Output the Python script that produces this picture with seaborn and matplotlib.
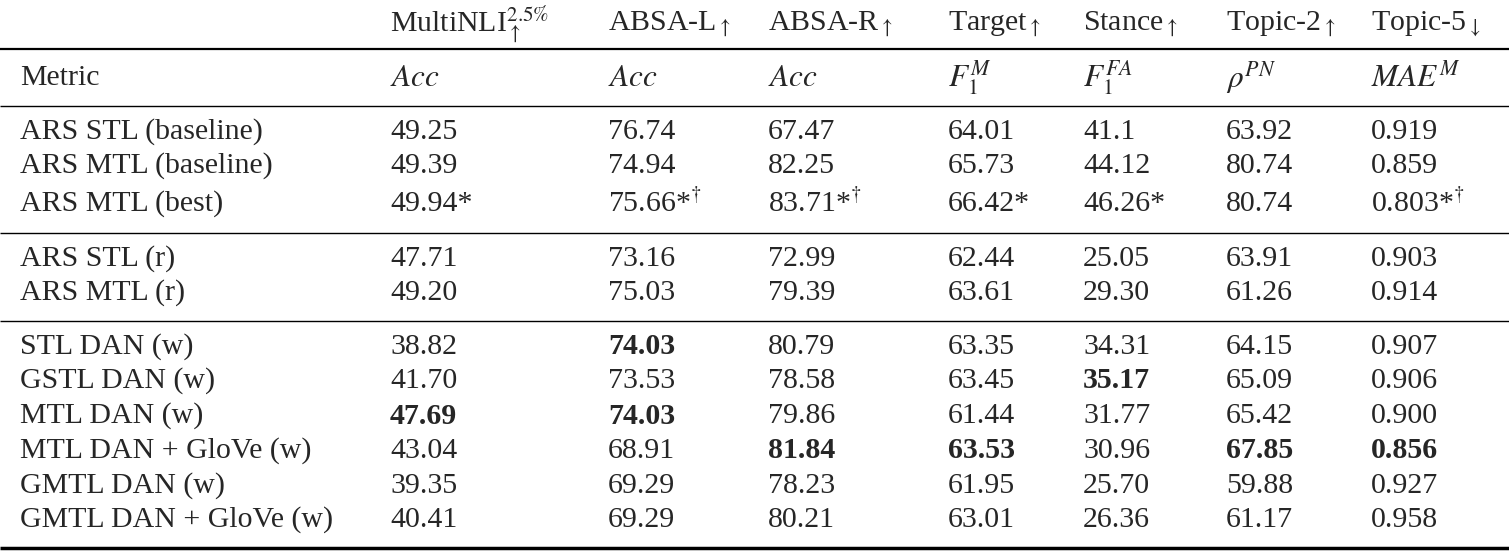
import matplotlib
matplotlib.use("Agg")
import matplotlib.pyplot as plt
import seaborn as sns

sns.set_theme(style="white")
plt.rcParams['font.family'] = ['Liberation Serif', 'DejaVu Serif']
plt.rcParams['mathtext.fontset'] = 'stix'

headers = [r"MultiNLI$^{2.5\%}_{\uparrow}$", r"ABSA-L$_{\uparrow}$", r"ABSA-R$_{\uparrow}$",
           r"Target$_{\uparrow}$", r"Stance$_{\uparrow}$", r"Topic-2$_{\uparrow}$", r"Topic-5$_{\downarrow}$"]
metrics = [r"$Acc$", r"$Acc$", r"$Acc$", r"$F_1^M$", r"$F_1^{FA}$", r"$\rho^{PN}$", r"$MAE^M$"]
row_labels = ["ARS STL (baseline)", "ARS MTL (baseline)", "ARS MTL (best)",
              "ARS STL (r)", "ARS MTL (r)",
              "STL DAN (w)", "GSTL DAN (w)", "MTL DAN (w)", "MTL DAN + GloVe (w)",
              "GMTL DAN (w)", "GMTL DAN + GloVe (w)"]
values = [
    ["49.25", "76.74", "67.47", "64.01", "41.1", "63.92", "0.919"],
    ["49.39", "74.94", "82.25", "65.73", "44.12", "80.74", "0.859"],
    ["49.94*", r"75.66*$^{\dagger}$", r"83.71*$^{\dagger}$", "66.42*", "46.26*", "80.74", r"0.803*$^{\dagger}$"],
    ["47.71", "73.16", "72.99", "62.44", "25.05", "63.91", "0.903"],
    ["49.20", "75.03", "79.39", "63.61", "29.30", "61.26", "0.914"],
    ["38.82", "74.03", "80.79", "63.35", "34.31", "64.15", "0.907"],
    ["41.70", "73.53", "78.58", "63.45", "35.17", "65.09", "0.906"],
    ["47.69", "74.03", "79.86", "61.44", "31.77", "65.42", "0.900"],
    ["43.04", "68.91", "81.84", "63.53", "30.96", "67.85", "0.856"],
    ["39.35", "69.29", "78.23", "61.95", "25.70", "59.88", "0.927"],
    ["40.41", "69.29", "80.21", "63.01", "26.36", "61.17", "0.958"],
]
bold = [(5, 1), (6, 4), (7, 0), (7, 1), (8, 2), (8, 3), (8, 5), (8, 6)]

W, H = 1509, 551
fig = plt.figure(figsize=(W / 100, H / 100), dpi=100)
ax = fig.add_axes([0, 0, 1, 1])
ax.set_xlim(0, W)
ax.set_ylim(H, 0)
ax.axis('off')

col_x = [390, 608, 768, 948, 1083, 1226, 1371]
label_x = 20
row_y = [132, 166, 204, 259, 293, 347, 381, 416, 451, 486, 520]
fs = 21.5

for x, h in zip(col_x, headers):
    ax.text(x, 24, h, fontsize=fs, va='center', ha='left')
ax.text(label_x, 78, "Metric", fontsize=fs, va='center', ha='left')
for x, m in zip(col_x, metrics):
    ax.text(x, 78, m, fontsize=fs + 1, va='center', ha='left')

for i, (lab, row, y) in enumerate(zip(row_labels, values, row_y)):
    ax.text(label_x, y, lab, fontsize=fs, va='center', ha='left')
    for j, (x, v) in enumerate(zip(col_x, row)):
        ax.text(x, y, v, fontsize=fs, va='center', ha='left',
                fontweight='bold' if (i, j) in bold else 'normal')

ax.hlines([49], 0, W, color='black', lw=1.6)
ax.hlines([106, 233, 321], 0, W, color='black', lw=1.0)
ax.hlines([548], 0, W, color='black', lw=2.5)

fig.savefig("out.png", dpi=100)
